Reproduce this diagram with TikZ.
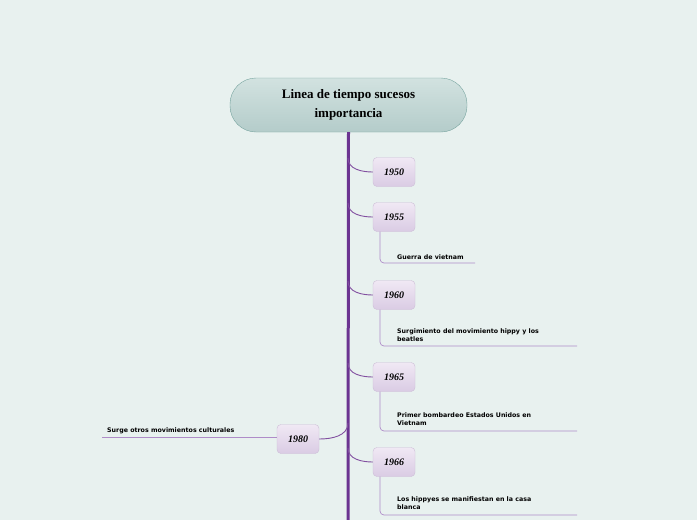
\documentclass[tikz,border=0pt]{standalone}
\usepackage{fontspec}
\setmainfont{Liberation Serif}
\newfontfamily\smallsans{DejaVu Sans}
\definecolor{lav}{RGB}{230,218,236}
\definecolor{lavtop}{RGB}{240,232,244}
\definecolor{lavbot}{RGB}{218,204,228}
\definecolor{lavedge}{RGB}{205,190,215}
\definecolor{branchc}{RGB}{130,80,160}
\definecolor{subc}{RGB}{175,140,200}
\definecolor{spine}{RGB}{107,52,145}
\begin{document}
\begin{tikzpicture}[x=1pt,y=-1pt,
  yearbox/.style={draw=lavedge,top color=lavtop,bottom color=lavbot,rounded corners=4pt,minimum width=42pt,minimum height=29pt,font=\bfseries\itshape\fontsize{10}{11}\selectfont},
  branch/.style={draw=branchc,line width=0.9pt},
  sub/.style={draw=subc,line width=0.7pt},
  lbl/.style={anchor=west,align=left,font=\smallsans\bfseries\fontsize{6.3}{8}\selectfont,inner sep=0pt}]
\useasboundingbox[fill={rgb,255:red,232;green,241;blue,239}] (0,0) rectangle (697,520);
\node[draw={rgb,255:red,120;green,165;blue,160},top color={rgb,255:red,210;green,226;blue,224},bottom color={rgb,255:red,180;green,204;blue,202},rounded corners=26pt,minimum width=237pt,minimum height=54pt,align=center,font=\bfseries\fontsize{13}{19}\selectfont] (title) at (348.5,105) {Linea de tiempo sucesos\\importancia};
\coordinate (bot) at (348,520);
\draw[draw=spine,line width=3pt] (title.south) -- (bot);
\foreach \n/\yy in {1950/172,1955/217,1960/295,1965/377,1966/462}{
  \node[yearbox] (y\n) at (394,\yy) {\n};
  \draw[branch] (348,\yy-14) to[out=-90,in=180] (y\n.west);
}
\node[yearbox] (y1980) at (298,439) {1980};
\draw[branch] (348,423) to[out=-90,in=0] (y1980.east);
\node[lbl] (t55) at (397,257) {Guerra de vietnam};
\coordinate (e55) at (475,263);
\draw[sub] (y1955.south -| 380,0) -- (380,259) to[out=-90,in=180] (384,263) -- (e55);
\node[lbl] (t60) at (397,335) {Surgimiento del movimiento hippy y los\\beatles};
\coordinate (e60) at (577,346);
\draw[sub] (y1960.south -| 380,0) -- (380,342) to[out=-90,in=180] (384,346) -- (e60);
\node[lbl] (t65) at (397,419) {Primer bombardeo Estados Unidos en\\Vietnam};
\coordinate (e65) at (577,431);
\draw[sub] (y1965.south -| 380,0) -- (380,427) to[out=-90,in=180] (384,431) -- (e65);
\node[lbl] (t66) at (397,503.5) {Los hippyes se manifiestan en la casa\\blanca};
\coordinate (e66) at (577,515);
\draw[sub] (y1966.south -| 380,0) -- (380,511) to[out=-90,in=180] (384,515) -- (e66);
\node[lbl] (t80) at (107,431) {Surge otros movimientos culturales};
\coordinate (e80) at (102,437);
\draw[sub] (y1980.west) ++(0,-2) -- (e80);
\end{tikzpicture}
\end{document}
